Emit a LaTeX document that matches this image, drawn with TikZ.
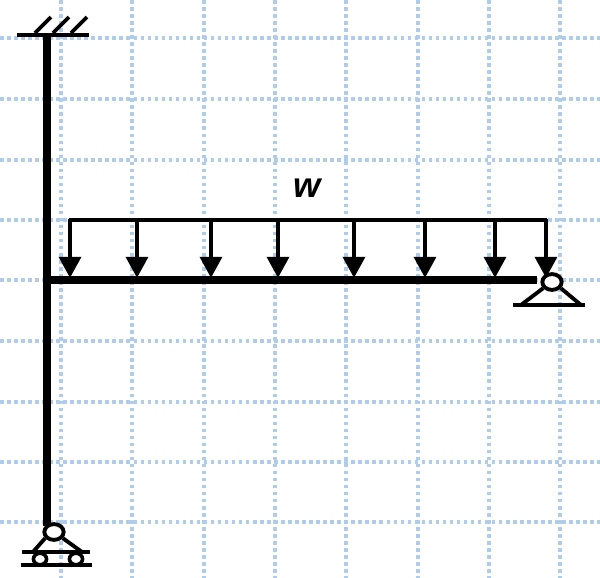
\documentclass[tikz,border=0pt]{standalone}
\usepackage{fontspec}
\setmainfont{Liberation Sans}
\usetikzlibrary{positioning}
\usetikzlibrary{arrows.meta}
\usetikzlibrary{shapes.geometric}
\definecolor{gridblue}{RGB}{175,204,235}
\tikzset{
  gridline/.style={gridblue, line width=2pt, dash pattern=on 2pt off 2pt},
  member/.style={black, line width=4.2pt},
  thinbar/.style={black, line width=2.2pt},
  loadarrow/.style={black, line width=2.1pt, -{Triangle[width=12.5pt,length=12pt]}, shorten >=-0.5pt},
  hinge/.style={draw=black, fill=white, ellipse, line width=2.2pt, minimum width=11pt, minimum height=9pt, inner sep=0pt},
  wheel/.style={draw=black, fill=white, ellipse, line width=2pt, minimum width=7.5pt, minimum height=6.5pt, inner sep=0pt}
}

\begin{document}
\begin{tikzpicture}[x=0.02cm,y=-0.02cm]

\useasboundingbox (0,0) rectangle (600,578);

% grid
\foreach \xpos in {61,132,204,275,346,418,489,560}{
\draw[gridline] (\xpos,0)--(\xpos,578);
}
\foreach \ypos in {38,99,160,220,280,341,402,462,522}{
\draw[gridline] (0,\ypos)--(600,\ypos);
}

% frame
\coordinate (top) at (47,36);
\coordinate (base) at (47,526);
\coordinate (joint) at (47,280);
\coordinate (beamend) at (537,280);
\draw[member] (top)--(base);
\draw[member] (joint)--(beamend);

% fixed end
\coordinate (wallL) at (17,35);
\coordinate (wallR) at (89,35);
\draw[thinbar] (wallL)--(wallR);
\foreach \xpos [count=\i] in {35,53,71}{
\coordinate (hatchA\i) at (\xpos,33);
\coordinate (hatchB\i) at (\xpos+16,17);
\draw[thinbar] (hatchA\i)--(hatchB\i);
}

% load
\coordinate (loadL) at (71,220);
\coordinate (loadR) at (545,220);
\draw[thinbar, line cap=rect] (loadL)--(loadR);
\foreach \xpos [count=\i] in {70,137,211,278,354,425,495,546}{
\coordinate (loadtop\i) at (\xpos,219);
\coordinate (loadtip\i) at (\xpos,277);
\draw[loadarrow] (loadtop\i)--(loadtip\i);
}
\node[font=\fontsize{20pt}{20pt}\selectfont\bfseries\itshape] (loadlabel) at (307,188) {w};

% pin support
\coordinate (pinL) at (521,305);
\coordinate (pinR) at (581,305);
\coordinate (pinbarL) at (513,305);
\coordinate (pinbarR) at (585,305);
\node[hinge] (pin) at (552,282) {};
\draw[thinbar] (pin.215)--(pinL);
\draw[thinbar] (pin.325)--(pinR);
\draw[thinbar] (pinbarL)--(pinbarR);

% roller support
\coordinate (rollL) at (33,552);
\coordinate (rollR) at (82,552);
\coordinate (rollbarL) at (22,552);
\coordinate (rollbarR) at (90,552);
\coordinate (floorL) at (21,565);
\coordinate (floorR) at (92,565);
\node[hinge] (roller) at (54,532) {};
\draw[thinbar] (roller.215)--(rollL);
\draw[thinbar] (roller.325)--(rollR);
\draw[thinbar] (rollbarL)--(rollbarR);
\draw[thinbar] (floorL)--(floorR);
\node[wheel] (wheelL) at (40,559) {};
\node[wheel] (wheelR) at (76,559) {};

\end{tikzpicture}
\end{document}
